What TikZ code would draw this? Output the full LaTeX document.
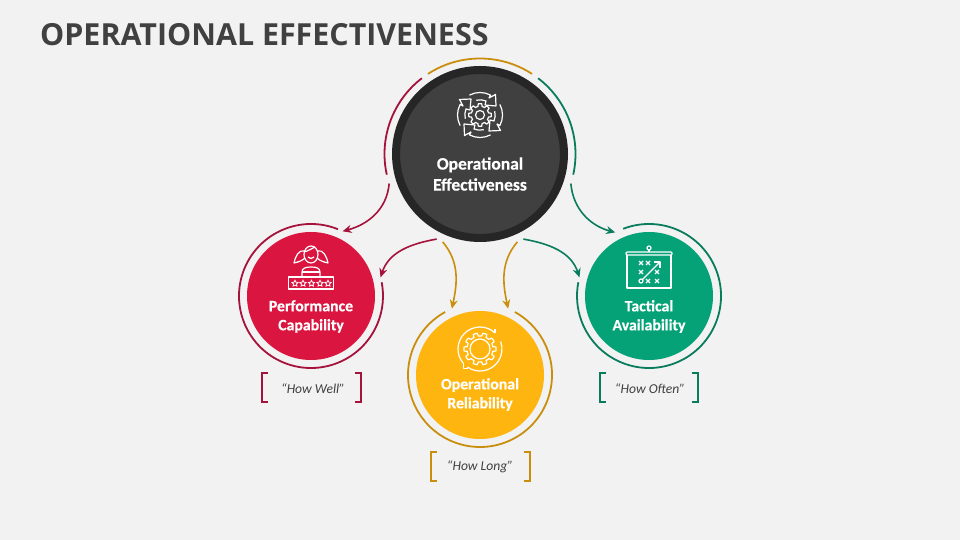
\documentclass[tikz,border=0pt]{standalone}
\usepackage{fontspec}
\setmainfont{Carlito}
\newfontfamily\titlefont{Open Sans}
\newfontfamily\capfont[BoldFeatures={FakeBold=0.5}]{Carlito}
\usetikzlibrary{arrows.meta, shapes.geometric}
\definecolor{pagegray}{HTML}{F2F2F2}
\definecolor{titlegray}{HTML}{404040}
\definecolor{maindark}{HTML}{404040}
\definecolor{mainrim}{HTML}{262626}
\definecolor{perffill}{HTML}{DA1640}
\definecolor{perfline}{HTML}{A5123C}
\definecolor{relifill}{HTML}{FFB50F}
\definecolor{reliline}{HTML}{C98F0C}
\definecolor{tactfill}{HTML}{05A277}
\definecolor{tactline}{HTML}{097C5C}
\tikzset{
    hub/.style={circle, draw=mainrim, fill=maindark, line width=8pt, minimum size=168pt, outer sep=11.5pt, inner sep=0pt},
    petal/.style={circle, minimum size=128pt, outer sep=8pt, inner sep=0pt},
    caption/.style={font=\capfont\bfseries\fontsize{15.8}{19}\selectfont, text=white, align=center},
    quote/.style={font=\itshape\fontsize{13.6}{16}\selectfont, text=titlegray},
    ring/.style={line width=1.8pt},
    link/.style={line width=1.6pt, -{Stealth[length=9pt, width=8pt]}},
    iconline/.style={draw=white, line width=1.2pt, line join=round},
    iconstar/.style={star, star points=5, star point ratio=2, draw=white, line width=0.8pt, minimum size=6.5pt, inner sep=0pt}
}
\begin{document}
\begin{tikzpicture}[x=1pt, y=1pt]
    \useasboundingbox (0, 0) rectangle (960, 540);
    \fill[pagegray] (0, 0) rectangle (960, 540);

    \node[anchor=west, text=titlegray, inner sep=0pt,
          font=\titlefont\bfseries\fontsize{30.4}{36}\selectfont]
        (title) at (40, 505.5) {OPERATIONAL EFFECTIVENESS};

    \node[hub] (main) at (480, 386) {};
    \node[petal, fill=perffill] (perf) at (311, 244) {};
    \node[petal, fill=relifill] (reli) at (480, 165) {};
    \node[petal, fill=tactfill] (tact) at (649, 244) {};

    % rings
    \draw[ring, reliline] ([shift={(57:95.5)}]main.center) arc (57:123:95.5);
    \draw[ring, perfline] ([shift={(127.5:95.5)}]main.center) arc (127.5:192.5:95.5);
    \draw[ring, tactline] ([shift={(52.5:95.5)}]main.center) arc (52.5:-12.5:95.5);
    \draw[ring, perfline] ([shift={(68:72)}]perf.center) arc (68:371:72);
    \draw[ring, reliline] ([shift={(119:72)}]reli.center) arc (119:421:72);
    \draw[ring, tactline] ([shift={(111:72)}]tact.center) arc (111:-191:72);

    % connectors
    \draw[link, perfline] (main.198) to[out=265, in=15] (perf.64);
    \draw[link, perfline] (main.243) to[out=190, in=72] (perf.15);
    \draw[link, reliline] (main.247) to[out=-50, in=78] (reli.113);
    \draw[link, reliline] (main.293) to[out=230, in=102] (reli.67);
    \draw[link, tactline] (main.-18) to[out=-85, in=165] (tact.118);
    \draw[link, tactline] (main.297) to[out=-10, in=108] (tact.165);

    % captions
    \node[caption, font=\capfont\bfseries\fontsize{17.5}{21}\selectfont] (mainlabel) at (480, 366) {Operational\\Effectiveness};
    \node[caption] (perflabel) at (311, 223.5) {Performance\\Capability};
    \node[caption] (relilabel) at (480, 145.5) {Operational\\Reliability};
    \node[caption] (tactlabel) at (649, 223.5) {Tactical\\Availability};

    % brackets
    \node[quote] (perfquote) at (313, 151.5) {“How Well”};
    \draw[ring, perfline] (268, 167) -| (262, 138) -- (268, 138);
    \draw[ring, perfline] (355, 167) -| (361, 138) -- (355, 138);
    \node[quote] (reliquote) at (480, 73) {“How Long”};
    \draw[ring, reliline] (437, 88) -| (431, 59) -- (437, 59);
    \draw[ring, reliline] (524, 88) -| (530, 59) -- (524, 59);
    \node[quote] (tactquote) at (650, 151.5) {“How Often”};
    \draw[ring, tactline] (606, 167) -| (600, 138) -- (606, 138);
    \draw[ring, tactline] (692, 167) -| (698, 138) -- (692, 138);

    % icon of the hub
    \begin{scope}[shift={(480, 425)}]
        \draw[iconline] plot[samples=129, domain=0:360] (\x:{10+1.3*sign(cos(8*\x))}) -- cycle;
        \draw[iconline] (0, 0) circle (4.5);
        \foreach \turn in {0, 90, 180, 270} {
            \begin{scope}[rotate=\turn]
                \draw[iconline] (118:22.5) arc (118:62:22.5) -- (9, 17) -- (15.5, 20.5) -- (16, 9) -- (5, 10) -- (6, 14) arc (67:105:15);
            \end{scope}
        }
    \end{scope}

    % icon of performance
    \begin{scope}[shift={(311, 256)}]
        \draw[iconline] (-22.5, 7) rectangle (22.5, -5);
        \draw[iconline] (-9, 7) -- (-9, 12) .. controls (-9, 16) and (-5, 17) .. (0, 17) .. controls (5, 17) and (9, 16) .. (9, 12) -- (9, 7);
        \draw[iconline] (-9, 12) -- (9, 12);
        \draw[iconline] (0, 29.5) ellipse (7 and 8.5);
        \draw[iconline] (-7, 32) .. controls (-3, 33) and (2, 36) .. (4, 37);
        \draw[iconline] (-6.5, 33) .. controls (-12, 35) and (-16, 27) .. (-17, 21) .. controls (-13, 22) and (-9, 23) .. (-6, 26);
        \draw[iconline] (6.5, 33) .. controls (12, 35) and (16, 27) .. (17, 21) .. controls (13, 22) and (9, 23) .. (6, 26);
        \draw[iconline] (-3, 27) .. controls (-1, 25) and (1, 25) .. (3, 27);
    \end{scope}
    \foreach \n/\x in {a/295, b/303, c/311.5, d/320, e/328} {
        \node[iconstar] (star\n) at (\x, 256.5) {};
    }

    % icon of reliability
    \begin{scope}[shift={(480, 191)}]
        \draw[iconline] (0, 0) circle (10);
        \draw[iconline] plot[samples=145, domain=0:360] (\x:{14.5+1.5*sign(cos(10*\x))}) -- cycle;
        \draw[iconline] (47:22) arc (47:220:22);
        \draw[iconline] (235:22) arc (235:380:22);
        \draw[iconline] (47:22) -- ++(0, 4);
        \draw[iconline] (220:22) -- ++(0, -5) -- ++(5, 0);
    \end{scope}

    % icon of tactics
    \begin{scope}[shift={(649, 244)}]
        \draw[iconline] (0, 48) circle (2);
        \draw[iconline] (0, 46) -- (0, 44);
        \draw[iconline, rounded corners=1pt] (-23, 44) rectangle (23, 41);
        \draw[iconline] (-22, 41) |- (22, 8) -- (22, 41);
        \foreach \x/\y in {-8/33, -1/33, -8/24, 8/24, -1/15, 8/15} {
            \draw[iconline] (\x-2, \y-2) -- (\x+2, \y+2);
            \draw[iconline] (\x-2, \y+2) -- (\x+2, \y-2);
        }
        \draw[iconline] (-8, 15) circle (2);
        \draw[iconline] (-6.5, 16.5) -- (11, 34);
        \draw[iconline] (5, 34) -- (11, 34) -- (11, 28);
    \end{scope}
\end{tikzpicture}
\end{document}
